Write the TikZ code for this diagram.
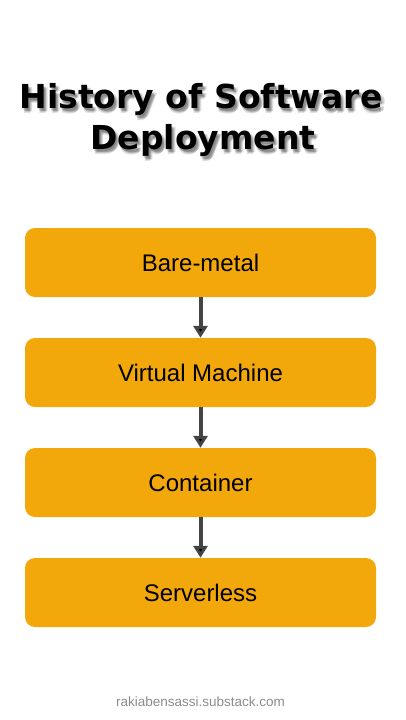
\documentclass[tikz,border=0pt]{standalone}
\usepackage{fontspec}
\setmainfont{Liberation Sans}
\newfontfamily\titlefont{DejaVu Sans}
\usetikzlibrary{positioning}
\usetikzlibrary{arrows.meta}
\definecolor{boxorange}{RGB}{242,167,10}
\definecolor{arrowgray}{RGB}{68,68,68}
\definecolor{footgray}{RGB}{140,140,140}

\begin{document}
\begin{tikzpicture}[x=1pt,y=-1pt,>={Triangle[width=14pt,length=12pt]},node distance=110pt,
	stage node/.style={rectangle,rounded corners=10pt,fill=boxorange,minimum width=351pt,minimum height=69pt,inner sep=0pt,font=\fontsize{24}{28}\selectfont},
	title text/.style={anchor=base,inner sep=0pt,font=\titlefont\bfseries\fontsize{33}{40}\selectfont}]
	
	\useasboundingbox (0,0) rectangle (405,720);
	
	% soft shadow behind the title
	\foreach \dx/\dy in {1/2,2/3,3/4,2/5,4/3}{
		\node[title text,text=black,opacity=0.12] at (201+\dx,108+\dy) {History of Software};
		\node[title text,text=black,opacity=0.12] at (203+\dx,149+\dy) {Deployment};
	}
	\node[title text] (title1) at (201,108) {History of Software};
	\node[title text] (title2) at (203,149) {Deployment};
	
	\node[stage node] (bare) at (200.5,262.5) {Bare-metal};
	\node[stage node] (vm) [below of=bare] {Virtual Machine};
	\node[stage node] (cont) [below of=vm] {Container};
	\node[stage node] (serverless) [below of=cont] {Serverless};
	
	\path[->,draw=arrowgray,line width=4pt]
	(bare) edge (vm)
	(vm) edge (cont)
	(cont) edge (serverless);
	
	\node[text=footgray,font=\fontsize{13.5}{16}\selectfont] (footer) at (200.5,702) {rakiabensassi.substack.com};
\end{tikzpicture}
\end{document}
